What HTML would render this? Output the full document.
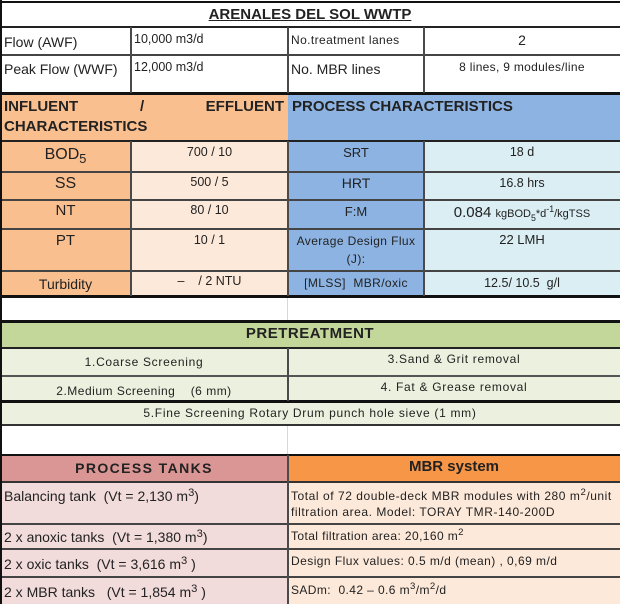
<!DOCTYPE html>
<html><head><meta charset="utf-8"><style>
html,body{margin:0;padding:0;background:#fff;}
body{width:620px;height:604px;position:relative;overflow:hidden;font-family:"Liberation Sans",Arial,sans-serif;color:#222;}
.c{position:absolute;}
.h{position:absolute;height:2px;background:#333;}
.v{position:absolute;width:2px;background:#4a4a4a;}
.t{position:absolute;line-height:16px;height:16px;white-space:nowrap;}
.ctr{text-align:center;}
.b{font-weight:bold;}
sub{font-size:80%;vertical-align:-4px;line-height:0;}
sup{font-size:80%;vertical-align:5px;line-height:0;}
</style></head><body>
<!-- backgrounds -->
<div class="c" style="left:0;top:93px;width:288px;height:48px;background:#FABF8F"></div>
<div class="c" style="left:288px;top:93px;width:332px;height:48px;background:#8DB3E2"></div>
<div class="c" style="left:0;top:141px;width:131px;height:155px;background:#FABF8F"></div>
<div class="c" style="left:131px;top:141px;width:157px;height:155px;background:#FDE9D9"></div>
<div class="c" style="left:288px;top:141px;width:136px;height:155px;background:#8DB3E2"></div>
<div class="c" style="left:424px;top:141px;width:196px;height:155px;background:#DAEEF3"></div>
<div class="c" style="left:0;top:321px;width:620px;height:27px;background:#C4D79B"></div>
<div class="c" style="left:0;top:348px;width:620px;height:77px;background:#EBF1DE"></div>
<div class="c" style="left:0;top:455px;width:288px;height:27px;background:#DA9694"></div>
<div class="c" style="left:288px;top:455px;width:332px;height:27px;background:#F79646"></div>
<div class="c" style="left:0;top:482px;width:288px;height:122px;background:#F2DCDB"></div>
<div class="c" style="left:288px;top:482px;width:332px;height:122px;background:#FDE9D9"></div>

<!-- faint gridlines in blanks -->
<div class="c" style="left:287px;top:296px;width:1px;height:25px;background:#d8d8d8"></div>
<div class="c" style="left:287px;top:425px;width:1px;height:30px;background:#d8d8d8"></div>

<!-- horizontal lines -->
<div class="h" style="left:0;top:1px;width:620px;background:#111"></div>
<div class="h" style="left:0;top:26px;width:620px;background:#222"></div>
<div class="h" style="left:0;top:54px;width:620px;background:#444"></div>
<div class="h" style="left:0;top:92px;width:620px;height:3px;background:#111"></div>
<div class="h" style="left:0;top:140px;width:620px;background:#222"></div>
<div class="h" style="left:0;top:171px;width:620px;background:#444"></div>
<div class="h" style="left:0;top:199px;width:620px;background:#444"></div>
<div class="h" style="left:0;top:228px;width:620px;background:#444"></div>
<div class="h" style="left:0;top:270px;width:620px;background:#444"></div>
<div class="h" style="left:0;top:295px;width:620px;height:3px;background:#111"></div>
<div class="h" style="left:0;top:320px;width:620px;height:3px;background:#111"></div>
<div class="h" style="left:0;top:347px;width:620px;background:#222"></div>
<div class="h" style="left:0;top:375px;width:620px;background:#555"></div>
<div class="h" style="left:0;top:400px;width:620px;height:3px;background:#111"></div>
<div class="h" style="left:0;top:424px;width:620px;background:#333"></div>
<div class="h" style="left:0;top:454px;width:620px;background:#111"></div>
<div class="h" style="left:0;top:481px;width:620px;background:#333"></div>
<div class="h" style="left:0;top:523px;width:620px;background:#444"></div>
<div class="h" style="left:0;top:548px;width:620px;background:#444"></div>
<div class="h" style="left:0;top:576px;width:620px;background:#444"></div>

<!-- vertical lines -->
<div class="v" style="left:0;top:0;height:604px;background:#111"></div>
<div class="v" style="left:130px;top:27px;height:66px"></div>
<div class="v" style="left:130px;top:141px;height:155px"></div>
<div class="v" style="left:287px;top:27px;height:66px"></div>
<div class="v" style="left:287px;top:141px;height:155px"></div>
<div class="v" style="left:423px;top:27px;height:66px"></div>
<div class="v" style="left:423px;top:141px;height:155px"></div>
<div class="v" style="left:287px;top:348px;height:53px"></div>
<div class="v" style="left:287px;top:455px;height:149px"></div>

<!-- title -->
<div class="t ctr b" style="left:0;top:7px;width:620px;font-size:15px;text-decoration:underline">ARENALES DEL SOL WWTP</div>

<!-- info rows -->
<div class="t" style="left:4px;top:34px;font-size:14px">Flow (AWF)</div>
<div class="t" style="left:134px;top:31px;font-size:12.5px">10,000 m3/d</div>
<div class="t" style="left:291px;top:32px;font-size:12px;letter-spacing:0.4px">No.treatment lanes</div>
<div class="t ctr" style="left:424px;top:32px;width:196px;font-size:14px">2</div>
<div class="t" style="left:4px;top:61px;font-size:14px">Peak Flow (WWF)</div>
<div class="t" style="left:134px;top:59px;font-size:12.5px">12,000 m3/d</div>
<div class="t" style="left:291px;top:61px;font-size:14px">No. MBR lines</div>
<div class="t ctr" style="left:424px;top:59px;width:196px;font-size:12px;letter-spacing:0.3px">8 lines, 9 modules/line</div>

<!-- section headers -->
<div class="t b" style="left:4px;top:99px;font-size:15px">INFLUENT</div>
<div class="t b" style="left:140px;top:99px;font-size:15px">/</div>
<div class="t b" style="left:200px;top:99px;width:84px;text-align:right;font-size:15px">EFFLUENT</div>
<div class="t b" style="left:4px;top:119px;font-size:15px">CHARACTERISTICS</div>
<div class="t b" style="left:292px;top:99px;font-size:15px">PROCESS CHARACTERISTICS</div>

<!-- influent rows -->
<div class="t ctr" style="left:0;top:147px;width:131px;font-size:16px">BOD<sub>5</sub></div>
<div class="t ctr" style="left:0;top:176px;width:131px;font-size:16px">SS</div>
<div class="t ctr" style="left:0;top:203px;width:131px;font-size:15px">NT</div>
<div class="t ctr" style="left:0;top:233px;width:131px;font-size:15px">PT</div>
<div class="t ctr" style="left:0;top:276px;width:131px;font-size:14px">Turbidity</div>

<div class="t ctr" style="left:131px;top:144px;width:157px;font-size:12.5px">700 / 10</div>
<div class="t ctr" style="left:131px;top:174px;width:157px;font-size:12.5px">500 / 5</div>
<div class="t ctr" style="left:131px;top:202px;width:157px;font-size:12.5px">80 / 10</div>
<div class="t ctr" style="left:131px;top:232px;width:157px;font-size:12.5px">10 / 1</div>
<div class="t ctr" style="left:131px;top:273px;width:157px;font-size:12.5px">–&nbsp;&nbsp;&nbsp;&nbsp;/ 2 NTU</div>

<div class="t ctr" style="left:288px;top:145px;width:136px;font-size:13px">SRT</div>
<div class="t ctr" style="left:288px;top:175px;width:136px;font-size:14px">HRT</div>
<div class="t ctr" style="left:288px;top:204px;width:136px;font-size:13px">F:M</div>
<div class="t ctr" style="left:288px;top:233px;width:136px;font-size:12px;letter-spacing:0.4px">Average Design Flux</div>
<div class="t ctr" style="left:288px;top:251px;width:136px;font-size:12px;letter-spacing:0.4px">(J):</div>
<div class="t ctr" style="left:288px;top:275px;width:136px;font-size:12px;letter-spacing:0.4px">[MLSS]&nbsp; MBR/oxic</div>

<div class="t ctr" style="left:424px;top:144px;width:196px;font-size:12.5px">18 d</div>
<div class="t ctr" style="left:424px;top:175px;width:196px;font-size:12.5px">16.8 hrs</div>
<div class="t ctr" style="left:424px;top:205px;width:196px;font-size:15px">0.084 <span style="font-size:11px">kgBOD<sub>5</sub>*d<sup>-1</sup>/kgTSS</span></div>
<div class="t ctr" style="left:424px;top:232px;width:196px;font-size:13px">22 LMH</div>
<div class="t ctr" style="left:424px;top:275px;width:196px;font-size:12.5px">12.5/ 10.5&nbsp; g/l</div>

<!-- pretreatment -->
<div class="t ctr b" style="left:0;top:326px;width:620px;font-size:15px;letter-spacing:0.5px">PRETREATMENT</div>
<div class="t ctr" style="left:0;top:354px;width:288px;font-size:12px;letter-spacing:0.7px">1.Coarse Screening</div>
<div class="t ctr" style="left:288px;top:351px;width:332px;font-size:12px;letter-spacing:0.7px">3.Sand &amp; Grit removal</div>
<div class="t ctr" style="left:0;top:383px;width:288px;font-size:12px;letter-spacing:0.5px">2.Medium Screening&nbsp;&nbsp;&nbsp; (6 mm)</div>
<div class="t ctr" style="left:288px;top:379px;width:332px;font-size:12px;letter-spacing:0.7px">4. Fat &amp; Grease removal</div>
<div class="t ctr" style="left:0;top:405px;width:620px;font-size:12px;letter-spacing:0.7px">5.Fine Screening Rotary Drum punch hole sieve (1 mm)</div>

<!-- process tanks / MBR -->
<div class="t ctr b" style="left:0;top:460px;width:288px;font-size:14px;letter-spacing:1.4px">PROCESS TANKS</div>
<div class="t ctr b" style="left:288px;top:459px;width:332px;font-size:15px">MBR system</div>

<div class="t" style="left:4px;top:488px;font-size:14px">Balancing tank&nbsp; (Vt = 2,130 m<sup>3</sup>)</div>
<div class="t" style="left:4px;top:529px;font-size:14px">2 x anoxic tanks&nbsp; (Vt = 1,380 m<sup>3</sup>)</div>
<div class="t" style="left:4px;top:556px;font-size:14px">2 x oxic tanks&nbsp; (Vt = 3,616 m<sup>3</sup> )</div>
<div class="t" style="left:4px;top:584px;font-size:14px">2 x MBR tanks&nbsp;&nbsp; (Vt = 1,854 m<sup>3</sup> )</div>

<div class="t" style="left:291px;top:488px;font-size:12px;letter-spacing:0.55px">Total of 72 double-deck MBR modules with 280 m<sup>2</sup>/unit</div>
<div class="t" style="left:291px;top:504px;font-size:12px;letter-spacing:0.55px">filtration area. Model: TORAY TMR-140-200D</div>
<div class="t" style="left:291px;top:528px;font-size:12px;letter-spacing:0.4px">Total filtration area: 20,160 m<sup>2</sup></div>
<div class="t" style="left:291px;top:553px;font-size:12px;letter-spacing:0.45px">Design Flux values: 0.5 m/d (mean) , 0,69 m/d</div>
<div class="t" style="left:291px;top:582px;font-size:12px;letter-spacing:0.4px">SADm:&nbsp; 0.42 – 0.6 m<sup>3</sup>/m<sup>2</sup>/d</div>
</body></html>
